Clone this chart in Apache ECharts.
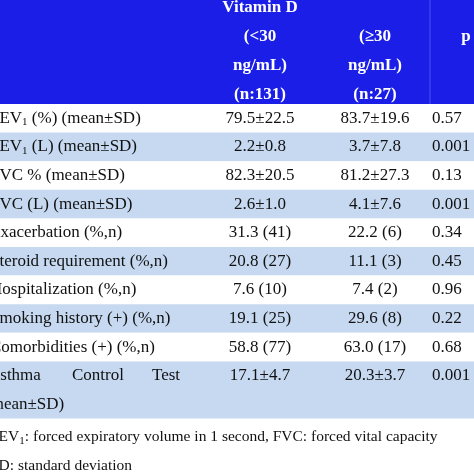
<!DOCTYPE html><html><head><meta charset="utf-8"><script src="https://cdn.jsdelivr.net/npm/echarts@6/dist/echarts.min.js"></script>
<style>html,body{margin:0;padding:0;background:#fff}#c{width:474px;height:474px}</style></head><body><div id="c"></div>
<script>
const headerLines = [["Vitamin D","",""],["(<30","(≥30","p"],["ng/mL)","ng/mL)",""],["(n:131)","(n:27)",""]];
const rowLabels = ["FEV{s|1} (%) (mean±SD)","FEV{s|1} (L) (mean±SD)","FVC % (mean±SD)","FVC (L) (mean±SD)","Exacerbation (%,n)","Steroid requirement (%,n)","Hospitalization (%,n)","Smoking history (+) (%,n)","Comorbidities (+) (%,n)","Asthma Control Test"];
const lowVitD = ["79.5±22.5","2.2±0.8","82.3±20.5","2.6±1.0","31.3 (41)","20.8 (27)","7.6 (10)","19.1 (25)","58.8 (77)","17.1±4.7"];
const highVitD = ["83.7±19.6","3.7±7.8","81.2±27.3","4.1±7.6","22.2 (6)","11.1 (3)","7.4 (2)","29.6 (8)","63.0 (17)","20.3±3.7"];
const pValues = ["0.57","0.001","0.13","0.001","0.34","0.45","0.96","0.22","0.68","0.001"];
const footnotes = ["FEV{s|1}: forced expiratory volume in 1 second, FVC: forced vital capacity","SD: standard deviation"];

const F = "'Liberation Serif','DejaVu Serif',serif";
const rich = {s:{fontSize:11,fontFamily:F,verticalAlign:'bottom',padding:[8,0,0,0]}};
const g = [];
const rowH = 28.6, headH = 104;
g.push({type:'rect',shape:{x:0,y:0,width:474,height:headH},style:{fill:'#1a1ee6'}});
g.push({type:'line',shape:{x1:430,y1:0,x2:430,y2:headH},style:{stroke:'#4b55ee',lineWidth:1}});
headerLines.forEach((l,i)=>{
  const y = 8 + i*28.8;
  g.push({type:'text',x:260,y:y,style:{text:l[0],font:'bold 17px '+F,fill:'#fff',align:'center',verticalAlign:'middle'}});
  if(l[1]) g.push({type:'text',x:375,y:y,style:{text:l[1],font:'bold 17px '+F,fill:'#fff',align:'center',verticalAlign:'middle'}});
  if(l[2]) g.push({type:'text',x:466,y:y,style:{text:l[2],font:'bold 17px '+F,fill:'#fff',align:'center',verticalAlign:'middle'}});
});
rowLabels.forEach((lab,i)=>{
  const y0 = headH + i*rowH;
  const h = i===rowLabels.length-1 ? rowH*2 : rowH;
  g.push({type:'rect',shape:{x:0,y:y0,width:474,height:h},style:{fill:i%2? '#c6d9f1':'#ffffff'}});
  const yc = y0 + rowH/2;
  if(i===rowLabels.length-1){
    [["Asthma",-12],["Control",72],["Test",152]].forEach(w=>g.push({type:'text',x:w[1],y:yc,style:{text:w[0],font:'17px '+F,fill:'#111',verticalAlign:'middle'}}));
    g.push({type:'text',x:-15,y:yc+rowH,style:{text:'(mean±SD)',font:'17px '+F,fill:'#111',verticalAlign:'middle'}});
  } else {
    g.push({type:'text',x:-10,y:yc,style:{text:lab,rich:rich,font:'17px '+F,fill:'#111',verticalAlign:'middle'}});
  }
  g.push({type:'text',x:260,y:yc,style:{text:lowVitD[i],font:'17px '+F,fill:'#111',align:'center',verticalAlign:'middle'}});
  g.push({type:'text',x:375,y:yc,style:{text:highVitD[i],font:'17px '+F,fill:'#111',align:'center',verticalAlign:'middle'}});
  g.push({type:'text',x:432,y:yc,style:{text:pValues[i],font:'17px '+F,fill:'#111',verticalAlign:'middle'}});
});
footnotes.forEach((t,i)=>{
  g.push({type:'text',x:-10,y:437+i*28.5,style:{text:t,rich:rich,font:'15.5px '+F,fill:'#111',verticalAlign:'middle'}});
});
const chart = echarts.init(document.getElementById('c'),null,{renderer:'canvas'});
chart.setOption({animation:false,graphic:{elements:g}});
</script></body></html>
